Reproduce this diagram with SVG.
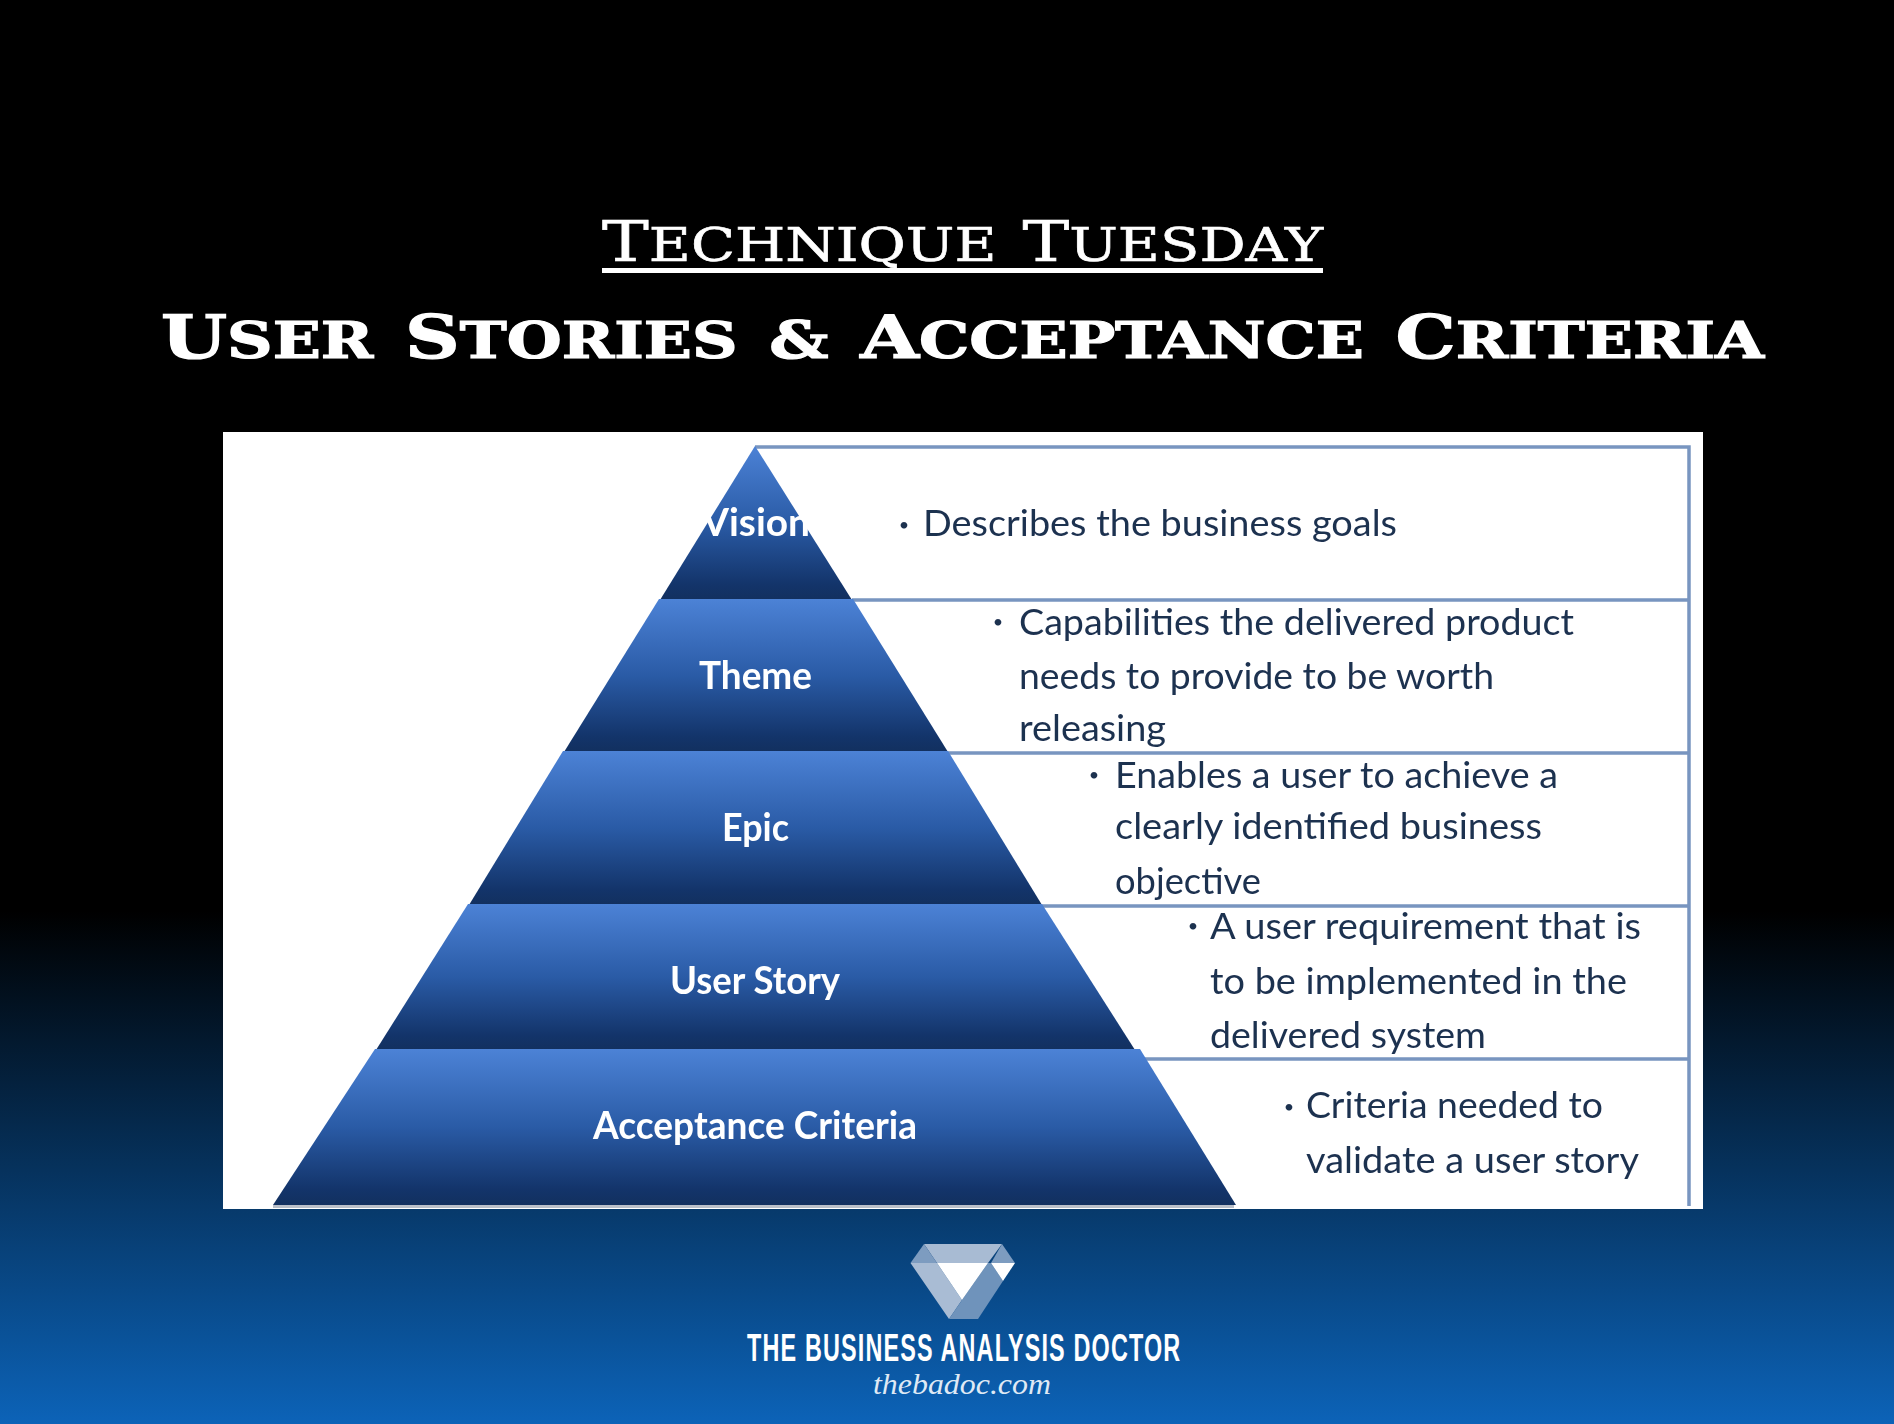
<svg xmlns="http://www.w3.org/2000/svg" width="1894" height="1424" viewBox="0 0 1894 1424">
<style>
.t1{font-family:"DejaVu Serif",serif;font-variant:small-caps;fill:#fff;stroke:#fff;stroke-width:.6px;font-size:65px}
.t1 .c{font-size:56px}
.t2{font-family:"DejaVu Serif",serif;font-variant:small-caps;font-weight:700;fill:#fff;stroke:#fff;stroke-width:1.2px;font-size:72px}
.t2 .c{font-size:60px}
.t2 .a{font-size:52px}
.d{font-family:Lato,"Liberation Sans",sans-serif;font-size:36px;fill:#1d3050;filter:url(#soft)}
.b{font-family:Lato,"Liberation Sans",sans-serif;font-size:18px;fill:#1d3050;text-anchor:middle;filter:url(#soft)}
.l{font-family:Lato,"Liberation Sans",sans-serif;font-weight:700;font-size:39px;fill:#fff;filter:url(#soft)}
.tier{fill:url(#tg)}
.rule{stroke:#7895c0;stroke-width:3.5;fill:none}
</style>
<defs>
<linearGradient id="bg" x1="0" y1="0" x2="0" y2="1">
<stop offset="0" stop-color="#000"/><stop offset="0.64" stop-color="#000"/><stop offset="1" stop-color="#0c63b8"/>
</linearGradient>
<linearGradient id="tg" x1="0" y1="0" x2="0" y2="1">
<stop offset="0" stop-color="#4c82d6"/><stop offset="0.5" stop-color="#2a5ba6"/><stop offset="0.9" stop-color="#13346a"/><stop offset="1" stop-color="#12305f"/>
</linearGradient>
<filter id="soft" x="-5%" y="-30%" width="110%" height="160%"><feGaussianBlur stdDeviation="0.7"/></filter>
</defs>
<rect id="background" width="1894" height="1424" fill="url(#bg)"/>
<g id="title">
<text class="t1" x="602" y="261" textLength="721" lengthAdjust="spacingAndGlyphs"><tspan class="c">T</tspan>echnique <tspan class="c">T</tspan>uesday</text>
<rect x="602" y="268" width="721" height="5" fill="#fff"/>
<text class="t2" x="161" y="358" textLength="1603" lengthAdjust="spacingAndGlyphs"><tspan class="c">U</tspan>ser <tspan class="c">S</tspan>tories <tspan class="a">&amp;</tspan> <tspan class="c">A</tspan>cceptance <tspan class="c">C</tspan>riteria</text>
</g>
<rect id="panel" x="223" y="432" width="1480" height="777" fill="#fff"/>
<g id="connectors">
<path class="rule" d="M755 447H1689V1206"/>
<path class="rule" d="M852 600H1689M947 753H1689M1041 906H1689M1134 1059H1689"/>
<path d="M273 1206.500H1234" stroke="#b9bfc9" stroke-width="3" fill="none"/>
</g>
<g id="tier-vision">
<polygon class="tier" points="755,446 852,600 660,600"/>
<text class="l" x="702" y="536" textLength="108" lengthAdjust="spacingAndGlyphs">Vision</text>
<text class="b" x="904" y="531">•</text>
<text class="d" x="923" y="536" textLength="474" lengthAdjust="spacingAndGlyphs">Describes the business goals</text>
</g>
<g id="tier-theme">
<polygon class="tier" points="659,599 853,599 948,752 564,752"/>
<text class="l" x="699" y="689" textLength="113" lengthAdjust="spacingAndGlyphs">Theme</text>
<text class="b" x="998" y="628">•</text>
<text class="d" x="1019" y="635" textLength="555" lengthAdjust="spacingAndGlyphs">Capabilities the delivered product</text>
<text class="d" x="1019" y="689" textLength="475" lengthAdjust="spacingAndGlyphs">needs to provide to be worth</text>
<text class="d" x="1019" y="741" textLength="147" lengthAdjust="spacingAndGlyphs">releasing</text>
</g>
<g id="tier-epic">
<polygon class="tier" points="563,751 948,751 1042,905 469,905"/>
<text class="l" x="722" y="841" textLength="67" lengthAdjust="spacingAndGlyphs">Epic</text>
<text class="b" x="1094" y="781">•</text>
<text class="d" x="1115" y="788" textLength="443" lengthAdjust="spacingAndGlyphs">Enables a user to achieve a</text>
<text class="d" x="1115" y="839" textLength="427" lengthAdjust="spacingAndGlyphs">clearly identified business</text>
<text class="d" x="1115" y="894" textLength="146" lengthAdjust="spacingAndGlyphs">objective</text>
</g>
<g id="tier-user-story">
<polygon class="tier" points="468,904 1042,904 1135,1050 376,1050"/>
<text class="l" x="670" y="994" textLength="170" lengthAdjust="spacingAndGlyphs">User Story</text>
<text class="b" x="1193" y="932">•</text>
<text class="d" x="1210" y="939" textLength="431" lengthAdjust="spacingAndGlyphs">A user requirement that is</text>
<text class="d" x="1210" y="994" textLength="417" lengthAdjust="spacingAndGlyphs">to be implemented in the</text>
<text class="d" x="1210" y="1048" textLength="276" lengthAdjust="spacingAndGlyphs">delivered system</text>
</g>
<g id="tier-acceptance-criteria">
<polygon class="tier" points="375,1049 1140,1049 1236,1205 273,1205"/>
<text class="l" x="593" y="1139" textLength="324" lengthAdjust="spacingAndGlyphs">Acceptance Criteria</text>
<text class="b" x="1289" y="1113">•</text>
<text class="d" x="1306" y="1118" textLength="297" lengthAdjust="spacingAndGlyphs">Criteria needed to</text>
<text class="d" x="1306" y="1173" textLength="333" lengthAdjust="spacingAndGlyphs">validate a user story</text>
</g>
<g id="logo">
<polygon points="924,1244 1002,1244 988,1263 937,1263" fill="#a8bbd3"/>
<polygon points="924,1244 937,1263 910.500,1263" fill="#7d9cc0"/>
<polygon points="1002,1244 1015,1263 991,1263" fill="#7d9cc0"/>
<polygon points="910.500,1263 937,1263 962,1300 949,1319" fill="#a9bcd4"/>
<polygon points="988,1263 962,1300 949,1319 978,1319 1003,1281 991,1263" fill="#6f93bb"/>
<polygon points="937,1263 988,1263 962,1300" fill="#fff"/>
<polygon points="991,1263 1015,1263 1003,1281" fill="#fff"/>
<text transform="translate(747 1361) scale(.6 1)" textLength="722" lengthAdjust="spacing" font-family="Liberation Sans, sans-serif" font-weight="700" font-size="39" fill="#fff">THE BUSINESS ANALYSIS DOCTOR</text>
<text x="873" y="1394" textLength="178" lengthAdjust="spacingAndGlyphs" font-family="Liberation Serif, serif" font-style="italic" font-size="30" fill="#dfe9f5">thebadoc.com</text>
</g>
</svg>
